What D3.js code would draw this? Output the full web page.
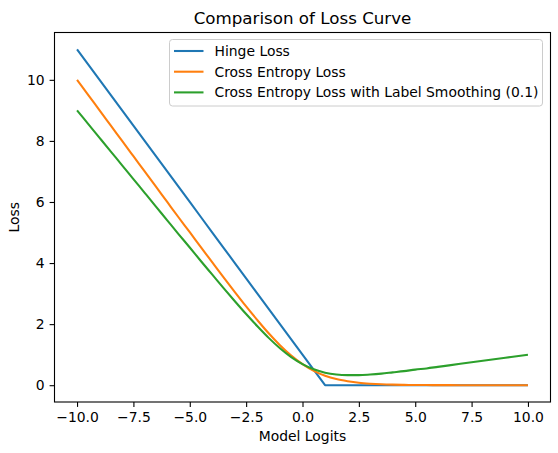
<!DOCTYPE html>
<html>
<head>
<meta charset="utf-8">
<script src="https://cdn.jsdelivr.net/npm/d3@7"></script>
<style>
  body { margin: 0; background: #fff; }
  svg { font-family: "DejaVu Sans", sans-serif; }
</style>
</head>
<body>
<div id="chart"></div>
<script>
// logits sampled every 0.5
var logits = [-10, -9.5, -9, -8.5, -8, -7.5, -7, -6.5, -6, -5.5, -5, -4.5, -4, -3.5, -3, -2.5, -2, -1.5, -1, -0.5,
  0, 0.5, 1, 1.5, 2, 2.5, 3, 3.5, 4, 4.5, 5, 5.5, 6, 6.5, 7, 7.5, 8, 8.5, 9, 9.5, 10];

var hingeLoss = [11, 10.5, 10, 9.5, 9, 8.5, 8, 7.5, 7, 6.5, 6, 5.5, 5, 4.5, 4, 3.5, 3, 2.5, 2, 1.5,
  1, 0.5, 0, 0, 0, 0, 0, 0, 0, 0, 0, 0, 0, 0, 0, 0, 0, 0, 0, 0, 0];

var crossEntropy = [10.00, 9.50, 9.00, 8.50, 8.00, 7.50, 7.00, 6.50, 6.00, 5.50, 5.01, 4.51, 4.02, 3.53, 3.05, 2.58, 2.13, 1.70, 1.31, 0.97,
  0.69, 0.47, 0.31, 0.20, 0.13, 0.08, 0.05, 0.03, 0.018, 0.011, 0.007, 0.004, 0.002, 0.0015, 0.001, 0.0006, 0.0003, 0.0002, 0.0001, 0.0001, 0];

var smoothedCE = [9.00, 8.55, 8.10, 7.65, 7.20, 6.75, 6.30, 5.85, 5.40, 4.95, 4.51, 4.06, 3.62, 3.18, 2.75, 2.33, 1.93, 1.55, 1.21, 0.92,
  0.69, 0.52, 0.41, 0.35, 0.33, 0.33, 0.35, 0.38, 0.42, 0.46, 0.51, 0.55, 0.60, 0.65, 0.70, 0.75, 0.80, 0.85, 0.90, 0.95, 1.00];

var seriesNames = ["Hinge Loss", "Cross Entropy Loss", "Cross Entropy Loss with Label Smoothing (0.1)"];
var seriesColors = ["#1f77b4", "#ff7f0e", "#2ca02c"];
var xTicks = [-10, -7.5, -5, -2.5, 0, 2.5, 5, 7.5, 10];
var yTicks = [0, 2, 4, 6, 8, 10];

var width = 558, height = 453;
var plot = {left: 54.5, right: 550.5, top: 32.5, bottom: 402};

var svg = d3.select("#chart")
  .append("svg")
  .attr("width", width)
  .attr("height", height);

var x = d3.scaleLinear().domain([-11, 11]).range([plot.left, plot.right]);
var y = d3.scaleLinear().domain([-0.55, 11.55]).range([plot.bottom, plot.top]);

// axes
var xAxis = d3.axisBottom(x).tickValues(xTicks).tickFormat(d3.format(".1f")).tickSizeOuter(0).tickSize(4.9).tickPadding(4.9);
svg.append("g")
  .attr("class", "x-axis")
  .attr("transform", "translate(0," + plot.bottom + ")")
  .call(xAxis);

var yAxis = d3.axisLeft(y).tickValues(yTicks).tickFormat(d3.format("d")).tickSizeOuter(0).tickSize(4.9).tickPadding(4.9);
svg.append("g")
  .attr("class", "y-axis")
  .attr("transform", "translate(" + plot.left + ",0)")
  .call(yAxis);

svg.selectAll(".x-axis path, .y-axis path").remove();
svg.selectAll(".tick line").attr("stroke", "#000").attr("stroke-width", 1.1);
svg.selectAll(".tick text").attr("fill", "#000").style("font-size", "13.9px").style("font-family", "DejaVu Sans");

// lines
var series = [hingeLoss, crossEntropy, smoothedCE];
series.forEach(function (vals, i) {
  var line = d3.line()
    .x(function (d, j) { return x(logits[j]); })
    .y(function (d) { return y(d); })
    .curve(i === 0 ? d3.curveLinear : d3.curveMonotoneX);
  svg.append("path")
    .datum(vals)
    .attr("fill", "none")
    .attr("stroke", seriesColors[i])
    .attr("stroke-width", 2.08)
    .attr("stroke-linejoin", "round")
    .attr("d", line);
});

// frame
svg.append("rect")
  .attr("x", plot.left)
  .attr("y", plot.top)
  .attr("width", plot.right - plot.left)
  .attr("height", plot.bottom - plot.top)
  .attr("fill", "none")
  .attr("stroke", "#000")
  .attr("stroke-width", 1.1);

// legend
var legend = svg.append("g");
legend.append("rect")
  .attr("x", 169.5)
  .attr("y", 39.5)
  .attr("width", 373)
  .attr("height", 66.5)
  .attr("rx", 3)
  .attr("fill", "#fff")
  .attr("fill-opacity", 0.8)
  .attr("stroke", "#cccccc")
  .attr("stroke-width", 1);

seriesNames.forEach(function (name, i) {
  var cy = 51 + i * 20.7;
  legend.append("line")
    .attr("x1", 174).attr("x2", 203.5)
    .attr("y1", cy).attr("y2", cy)
    .attr("stroke", seriesColors[i])
    .attr("stroke-width", 2.08);
  legend.append("text")
    .attr("x", 214.5)
    .attr("y", cy)
    .attr("dy", "0.35em")
    .style("font-size", "13.9px")
    .text(name);
});

// title and labels
svg.append("text")
  .attr("x", (plot.left + plot.right) / 2)
  .attr("y", 24)
  .attr("text-anchor", "middle")
  .style("font-size", "16.7px")
  .text("Comparison of Loss Curve");

svg.append("text")
  .attr("x", (plot.left + plot.right) / 2)
  .attr("y", 441)
  .attr("text-anchor", "middle")
  .style("font-size", "13.9px")
  .text("Model Logits");

svg.append("text")
  .attr("transform", "translate(19," + (plot.top + plot.bottom) / 2 + ") rotate(-90)")
  .attr("text-anchor", "middle")
  .style("font-size", "13.9px")
  .text("Loss");
</script>
</body>
</html>
